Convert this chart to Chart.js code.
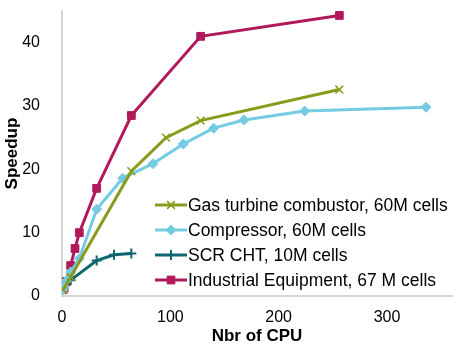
<!DOCTYPE html>
<html>
<head>
<meta charset="utf-8">
<script src="https://cdn.jsdelivr.net/npm/chart.js@4.4.1/dist/chart.umd.min.js"></script>
<style>
  html, body { margin: 0; padding: 0; background: #fff; }
  #wrap { width: 474px; height: 349px; }
</style>
</head>
<body>
<div id="wrap"><canvas id="speedupChart" width="474" height="349"></canvas></div>
<script>
// speedup measurements, one cpu list + one speedup list per case
const gasCpu = [1, 8, 64, 96, 128, 256];
const gasSpeedup = [1.0, 3.0, 19.7, 25.0, 27.7, 32.6];

const compCpu = [1, 2, 4, 8, 16, 32, 56, 84, 112, 140, 168, 224, 336];
const compSpeedup = [1.0, 1.5, 2.4, 3.8, 5.9, 13.7, 18.6, 20.9, 24.0, 26.5, 27.8, 29.2, 29.8];

const scrCpu = [8, 32, 48, 64];
const scrSpeedup = [2.5, 5.6, 6.5, 6.7];

const indCpu = [1, 2, 4, 8, 12, 16, 32, 64, 128, 256];
const indSpeedup = [1.0, 1.3, 2.3, 4.8, 7.5, 10.0, 17.0, 28.5, 41.0, 44.3];

const seriesLabels = [
    'Gas turbine combustor, 60M cells',
    'Compressor, 60M cells',
    'SCR CHT, 10M cells',
    'Industrial Equipment, 67 M cells'
];

const xTicks = [0, 100, 200, 300];
const yTicks = [0, 10, 20, 30, 40];

const FONT = "'Liberation Sans', Arial, sans-serif";

function toPoints(xs, ys) {
    return xs.map((x, i) => ({ x: x, y: ys[i] }));
}

function series(label, xs, ys, color, style, radius, markerLine) {
    return {
        label: label,
        data: toPoints(xs, ys),
        borderColor: color,
        backgroundColor: color,
        borderWidth: 3,
        pointStyle: style,
        pointRadius: radius,
        pointBorderWidth: markerLine,
        pointBorderColor: color,
        pointBackgroundColor: color,
        tension: 0,
        fill: false
    };
}

// legend drawn inside the plot, lower right
const innerLegend = {
    id: 'innerLegend',
    afterDraw(chart) {
        const ctx = chart.ctx;
        const x0 = 155;
        const y0 = 205;
        const rowH = 25;
        ctx.save();
        chart.data.datasets.forEach((ds, i) => {
            const y = y0 + i * rowH;
            ctx.strokeStyle = ds.borderColor;
            ctx.lineWidth = 3;
            ctx.beginPath();
            ctx.moveTo(x0, y);
            ctx.lineTo(x0 + 32, y);
            ctx.stroke();
            ctx.fillStyle = ds.backgroundColor;
            ctx.lineWidth = ds.pointBorderWidth;
            Chart.helpers.drawPoint(ctx, {
                pointStyle: ds.pointStyle,
                radius: ds.pointRadius,
                rotation: 0,
                borderWidth: ds.pointBorderWidth
            }, x0 + 16, y);
            ctx.fillStyle = '#000';
            ctx.font = '17.5px ' + FONT;
            ctx.textBaseline = 'middle';
            ctx.textAlign = 'left';
            ctx.fillText(ds.label, x0 + 33, y + 1);
        });
        ctx.restore();
    }
};

new Chart(document.getElementById('speedupChart').getContext('2d'), {
    type: 'line',
    data: {
        datasets: [
            series(seriesLabels[0], gasCpu, gasSpeedup, '#8a9a1c', 'crossRot', 5.5, 1.5),
            series(seriesLabels[1], compCpu, compSpeedup, '#74cbe2', 'rectRot', 5, 1),
            series(seriesLabels[2], scrCpu, scrSpeedup, '#0e6670', 'cross', 5, 2),
            series(seriesLabels[3], indCpu, indSpeedup, '#b0195a', 'rect', 5.5, 1)
        ]
    },
    options: {
        responsive: false,
        animation: false,
        layout: { padding: { top: 11, right: 22, left: 0, bottom: 0 } },
        plugins: {
            legend: { display: false },
            tooltip: { enabled: false }
        },
        scales: {
            x: {
                type: 'linear',
                min: 0,
                max: 360,
                grid: { display: false, drawTicks: false },
                border: { color: '#d4d4d4', width: 2 },
                afterBuildTicks: axis => {
                    axis.ticks = xTicks.map(v => ({ value: v }));
                },
                afterFit: axis => {
                    axis.height = 53;
                    axis.paddingLeft = 0;
                    axis.paddingRight = 0;
                },
                ticks: {
                    color: '#000',
                    padding: 12,
                    font: { family: FONT, size: 16 }
                },
                title: {
                    display: true,
                    text: 'Nbr of CPU',
                    color: '#000',
                    padding: { top: 4, bottom: 2 },
                    font: { family: FONT, size: 17, weight: 'bold' }
                }
            },
            y: {
                min: 0,
                max: 45,
                grid: { display: false, drawTicks: false },
                border: { color: '#d4d4d4', width: 2 },
                afterBuildTicks: axis => {
                    axis.ticks = yTicks.map(v => ({ value: v }));
                },
                afterFit: axis => {
                    axis.width = 62;
                    axis.paddingTop = 0;
                    axis.paddingBottom = 0;
                },
                ticks: {
                    color: '#000',
                    padding: 22,
                    font: { family: FONT, size: 16 }
                },
                title: {
                    display: true,
                    text: 'Speedup',
                    color: '#000',
                    padding: { top: 2, bottom: 0 },
                    font: { family: FONT, size: 17, weight: 'bold' }
                }
            }
        }
    },
    plugins: [innerLegend]
});
</script>
</body>
</html>
